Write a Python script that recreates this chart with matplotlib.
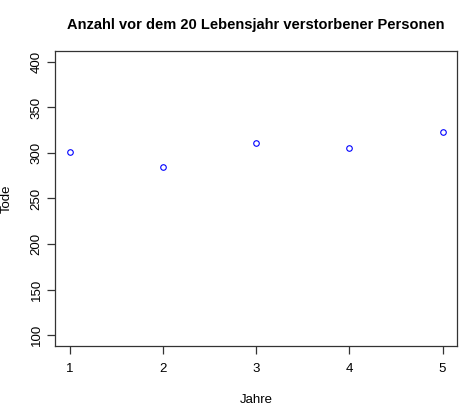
import matplotlib
matplotlib.use("Agg")
import matplotlib.pyplot as plt

jahre = [1, 2, 3, 4, 5]
tode = [301, 285, 311, 305, 323]
x_ticks = [1, 2, 3, 4, 5]
y_ticks = [100, 150, 200, 250, 300, 350, 400]

plt.rcParams['font.family'] = ['Liberation Sans', 'DejaVu Sans']

fig = plt.figure(figsize=(4.74, 4.08), dpi=100)
ax = fig.add_axes([0.116, 0.152, 0.849, 0.723])

ax.plot(jahre, tode, linestyle='none', marker='o', markersize=4,
        markerfacecolor='none', markeredgecolor='#0000ff', markeredgewidth=0.8)

# R style: 4% padding around the data range
ax.set_xlim(0.84, 5.16)
ax.set_ylim(88, 412)
ax.set_xticks(x_ticks)
ax.set_yticks(y_ticks)
ax.set_yticklabels([str(v) for v in y_ticks], rotation=90, va='center')

for s in ax.spines.values():
    s.set_linewidth(0.9)
    s.set_color('#333333')
ax.tick_params(length=6, width=0.9, color='#333333', labelsize=9.5, pad=6)
ax.tick_params(axis='y', pad=3)

ax.set_xlabel("Jahre", fontsize=9.5, labelpad=14)
ax.set_ylabel("Tode", fontsize=9.5)
ax.yaxis.set_label_coords(-0.106, 0.5)
ax.set_title("Anzahl vor dem 20 Lebensjahr verstorbener Personen",
             fontsize=10.5, fontweight='bold', pad=16)

fig.savefig("out.png", dpi=100)
